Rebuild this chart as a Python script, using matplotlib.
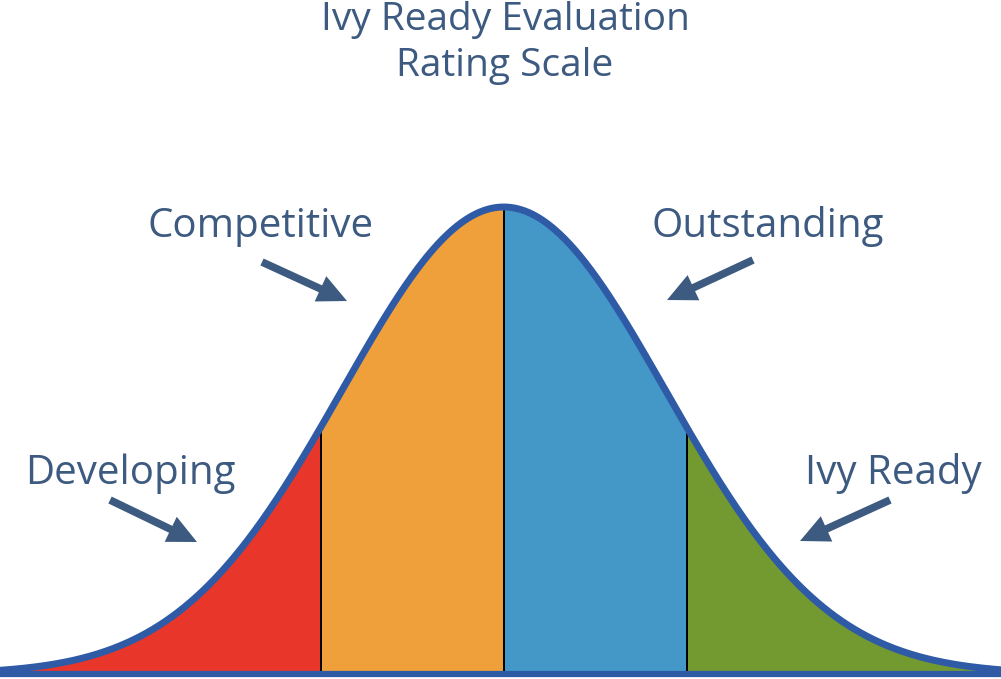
import numpy as np
import matplotlib
matplotlib.use("Agg")
import matplotlib.pyplot as plt

W, H = 1001, 679

title_lines = ["Ivy Ready Evaluation", "Rating Scale"]
bands = ["Developing", "Competitive", "Outstanding", "Ivy Ready"]
band_colors = ["#e8372a", "#f0a03b", "#4398c8", "#739a31"]
cutoffs = [-1.13, 0.0, 1.13]      # z-scores where the bands split
z_range = (-3.11, 3.07)

line_c = "#2e5aa6"
text_c = "#3d5a80"
font = ["Open Sans", "DejaVu Sans"]


def pdf(z):
    return np.exp(-z**2 / 2) / np.sqrt(2 * np.pi)


def px(x, y):
    "image pixel (from top-left) -> figure fraction"
    return x / W, 1 - y / H


fig = plt.figure(figsize=(W / 100, H / 100), dpi=100)
ax = fig.add_axes([0, 0, 1, 1])
peak = pdf(0)
base_px, peak_px = 5, 472     # baseline / peak height above bottom, pixels
scale = peak / (peak_px - base_px)
ax.set_xlim(*z_range)
ax.set_ylim(-base_px * scale, (H - base_px) * scale)
ax.axis("off")

edges = [z_range[0]] + cutoffs + [z_range[1]]
for i, c in enumerate(band_colors):
    zz = np.linspace(edges[i], edges[i + 1], 300)
    ax.fill_between(zz, 0, pdf(zz), color=c, lw=0)

for c in cutoffs:
    ax.vlines(c, 0, pdf(c), color="black", lw=1.4)

z = np.linspace(*z_range, 800)
ax.plot(z, pdf(z), color=line_c, lw=5, solid_capstyle="butt")
ax.axhline(0, color=line_c, lw=4.5)

# title
fig.text(*px(505, 30), title_lines[0], ha="center", va="baseline",
         fontsize=28, color=text_c, family=font)
fig.text(*px(505, 76), title_lines[1], ha="center", va="baseline",
         fontsize=28, color=text_c, family=font)

# labels + arrows: (text centre x, baseline y, tail, tip)
label_pos = [(130, 484), (261, 237), (768, 237), (893, 484)]
arrow_tail = [(110, 500), (262, 262), (753, 260), (890, 500)]
arrow_tip = [(197, 542), (347, 301), (667, 300), (800, 541)]

for name, (lx, ly), t0, t1 in zip(bands, label_pos, arrow_tail, arrow_tip):
    fig.text(*px(lx, ly), name, ha="center", va="baseline",
             fontsize=29, color=text_c, family=font)
    ax.annotate("", xy=px(*t1), xytext=px(*t0),
                xycoords="figure fraction", textcoords="figure fraction",
                arrowprops=dict(arrowstyle="simple,head_length=2.1,head_width=2.0,tail_width=0.55",
                                mutation_scale=10, color=text_c, lw=0,
                                shrinkA=0, shrinkB=0))

fig.savefig("out.png", dpi=100, facecolor="white")
